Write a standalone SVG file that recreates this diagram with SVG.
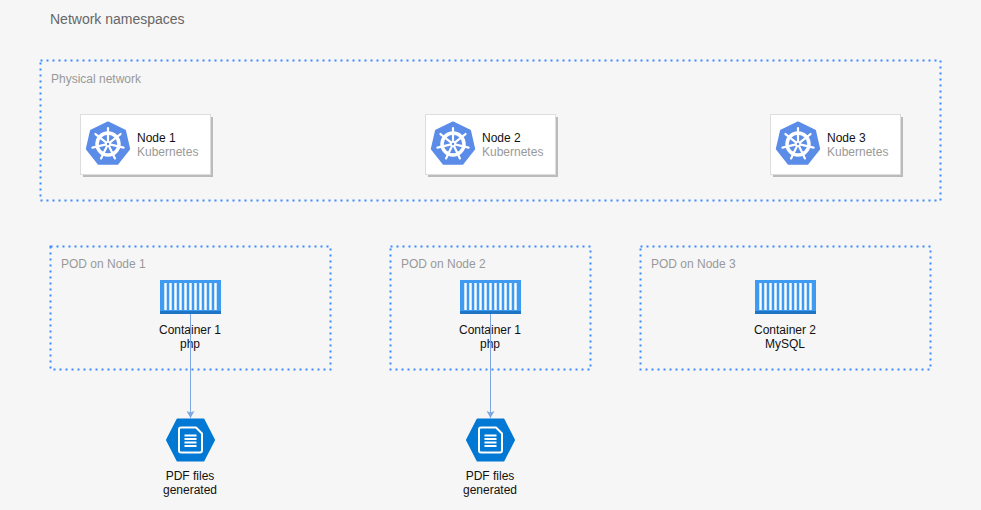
<svg xmlns="http://www.w3.org/2000/svg" width="981" height="510" viewBox="0 0 981 510">
<style>
text{font-family:"Liberation Sans",Arial,sans-serif;font-size:12px}
.c{text-anchor:middle;fill:#111}
.g{fill:#999}
.dot{fill:none;stroke:#3d8bff;stroke-width:2;stroke-dasharray:2 4}
.card{fill:#fff;stroke:#ddd;stroke-width:1}
.sh{fill:#bbb}
.edge{stroke:#7ea6e0;stroke-width:1;fill:none}
</style>
<defs>
<g id="k8s">
<polygon points="0,-21.500 17,-13.300 21.200,5 9.400,19.800 -9.400,19.800 -21.200,5 -17,-13.300" fill="#5b8ce8" stroke="#5b8ce8" stroke-width="2" stroke-linejoin="round"/>
<circle r="11" fill="none" stroke="#fff" stroke-width="3.500"/>
<g stroke="#fff" stroke-width="2.200" stroke-linecap="round">
<path d="M0,-3V-16"/>
<path d="M0,-3V-16" transform="rotate(51.430)"/>
<path d="M0,-3V-16" transform="rotate(102.860)"/>
<path d="M0,-3V-16" transform="rotate(154.290)"/>
<path d="M0,-3V-16" transform="rotate(205.710)"/>
<path d="M0,-3V-16" transform="rotate(257.140)"/>
<path d="M0,-3V-16" transform="rotate(308.570)"/>
</g>
<circle r="3" fill="#fff"/>
<circle r="1.200" fill="#5b8ce8"/>
</g>
<g id="box">
<rect x="0" y="0" width="61" height="34" fill="#3f9bf2"/>
<rect x="0" y="31" width="61" height="3" fill="#1f74c4"/>
<path d="M5.500,3V30M10.500,3V30M15.500,3V30M20.500,3V30M25.500,3V30M30.500,3V30M35.500,3V30M40.500,3V30M45.500,3V30M50.500,3V30M55.500,3V30" stroke="#fff" stroke-width="2.400" fill="none"/>
</g>
<g id="pdf">
<polygon points="-13,-20.500 13,-20.500 23.500,0 13,20.500 -13,20.500 -23.500,0" fill="#0078d4" stroke="#0078d4" stroke-width="2" stroke-linejoin="round"/>
<path d="M-9.500,-12.500H5.500L11.500,-6.500V10.500Q11.500,12.500 9.500,12.500H-9.500Q-11.500,12.500 -11.500,10.500V-10.500Q-11.500,-12.500 -9.500,-12.500Z" fill="none" stroke="#fff" stroke-width="2" stroke-linejoin="round"/>
<path d="M-6,-4.500H6M-6,-1H6M-6,2.500H6M-6,6H6" stroke="#fff" stroke-width="2" fill="none"/>
</g>
<marker id="arr" markerWidth="9" markerHeight="10" refX="7" refY="4" orient="auto" markerUnits="userSpaceOnUse">
<path d="M0,0L7,4L0,8L1.500,4Z" fill="#7ea6e0"/>
</marker>
</defs>
<rect width="981" height="510" fill="#f6f6f6"/>
<text x="50" y="24" style="font-size:14px" fill="#666">Network namespaces</text>

<g id="physical-network">
<rect class="dot" x="40.500" y="60.500" width="900" height="140"/>
<text class="g" x="51" y="83">Physical network</text>
</g>
<g id="node-1">
<rect class="sh" x="83" y="117" width="130" height="60"/>
<rect class="card" x="80.500" y="114.500" width="130" height="60"/>
<use href="#k8s" x="108" y="144"/>
<text x="137" y="142" fill="#111">Node 1</text>
<text class="g" x="137" y="156">Kubernetes</text>
</g>
<g id="node-2">
<rect class="sh" x="428" y="117" width="130" height="60"/>
<rect class="card" x="425.500" y="114.500" width="130" height="60"/>
<use href="#k8s" x="453" y="144"/>
<text x="482" y="142" fill="#111">Node 2</text>
<text class="g" x="482" y="156">Kubernetes</text>
</g>
<g id="node-3">
<rect class="sh" x="773" y="117" width="130" height="60"/>
<rect class="card" x="770.500" y="114.500" width="130" height="60"/>
<use href="#k8s" x="798" y="144"/>
<text x="827" y="142" fill="#111">Node 3</text>
<text class="g" x="827" y="156">Kubernetes</text>
</g>

<g id="pod-1">
<rect class="dot" x="50.500" y="246.500" width="280" height="123"/>
<text class="g" x="61" y="268">POD on Node 1</text>
</g>
<g id="pod-2">
<rect class="dot" x="390.500" y="246.500" width="200" height="123"/>
<text class="g" x="401" y="268">POD on Node 2</text>
</g>
<g id="pod-3">
<rect class="dot" x="640.500" y="246.500" width="290" height="123"/>
<text class="g" x="651" y="268">POD on Node 3</text>
</g>

<g id="container-1">
<use href="#box" x="160" y="280"/>
<text class="c" x="190" y="334">Container 1</text>
<text class="c" x="190" y="348">php</text>
</g>
<g id="container-2">
<use href="#box" x="460" y="280"/>
<text class="c" x="490" y="334">Container 1</text>
<text class="c" x="490" y="348">php</text>
</g>
<g id="container-3">
<use href="#box" x="755" y="280"/>
<text class="c" x="785" y="334">Container 2</text>
<text class="c" x="785" y="348">MySQL</text>
</g>

<g id="pdf-1">
<use href="#pdf" x="190.500" y="440"/>
<text class="c" x="190" y="480">PDF files</text>
<text class="c" x="190" y="494">generated</text>
</g>
<g id="pdf-2">
<use href="#pdf" x="490.500" y="440"/>
<text class="c" x="490" y="480">PDF files</text>
<text class="c" x="490" y="494">generated</text>
</g>

<g id="connectors">
<path class="edge" d="M190.500,314V418" marker-end="url(#arr)"/>
<path class="edge" d="M490.500,314V418" marker-end="url(#arr)"/>
</g>
</svg>
